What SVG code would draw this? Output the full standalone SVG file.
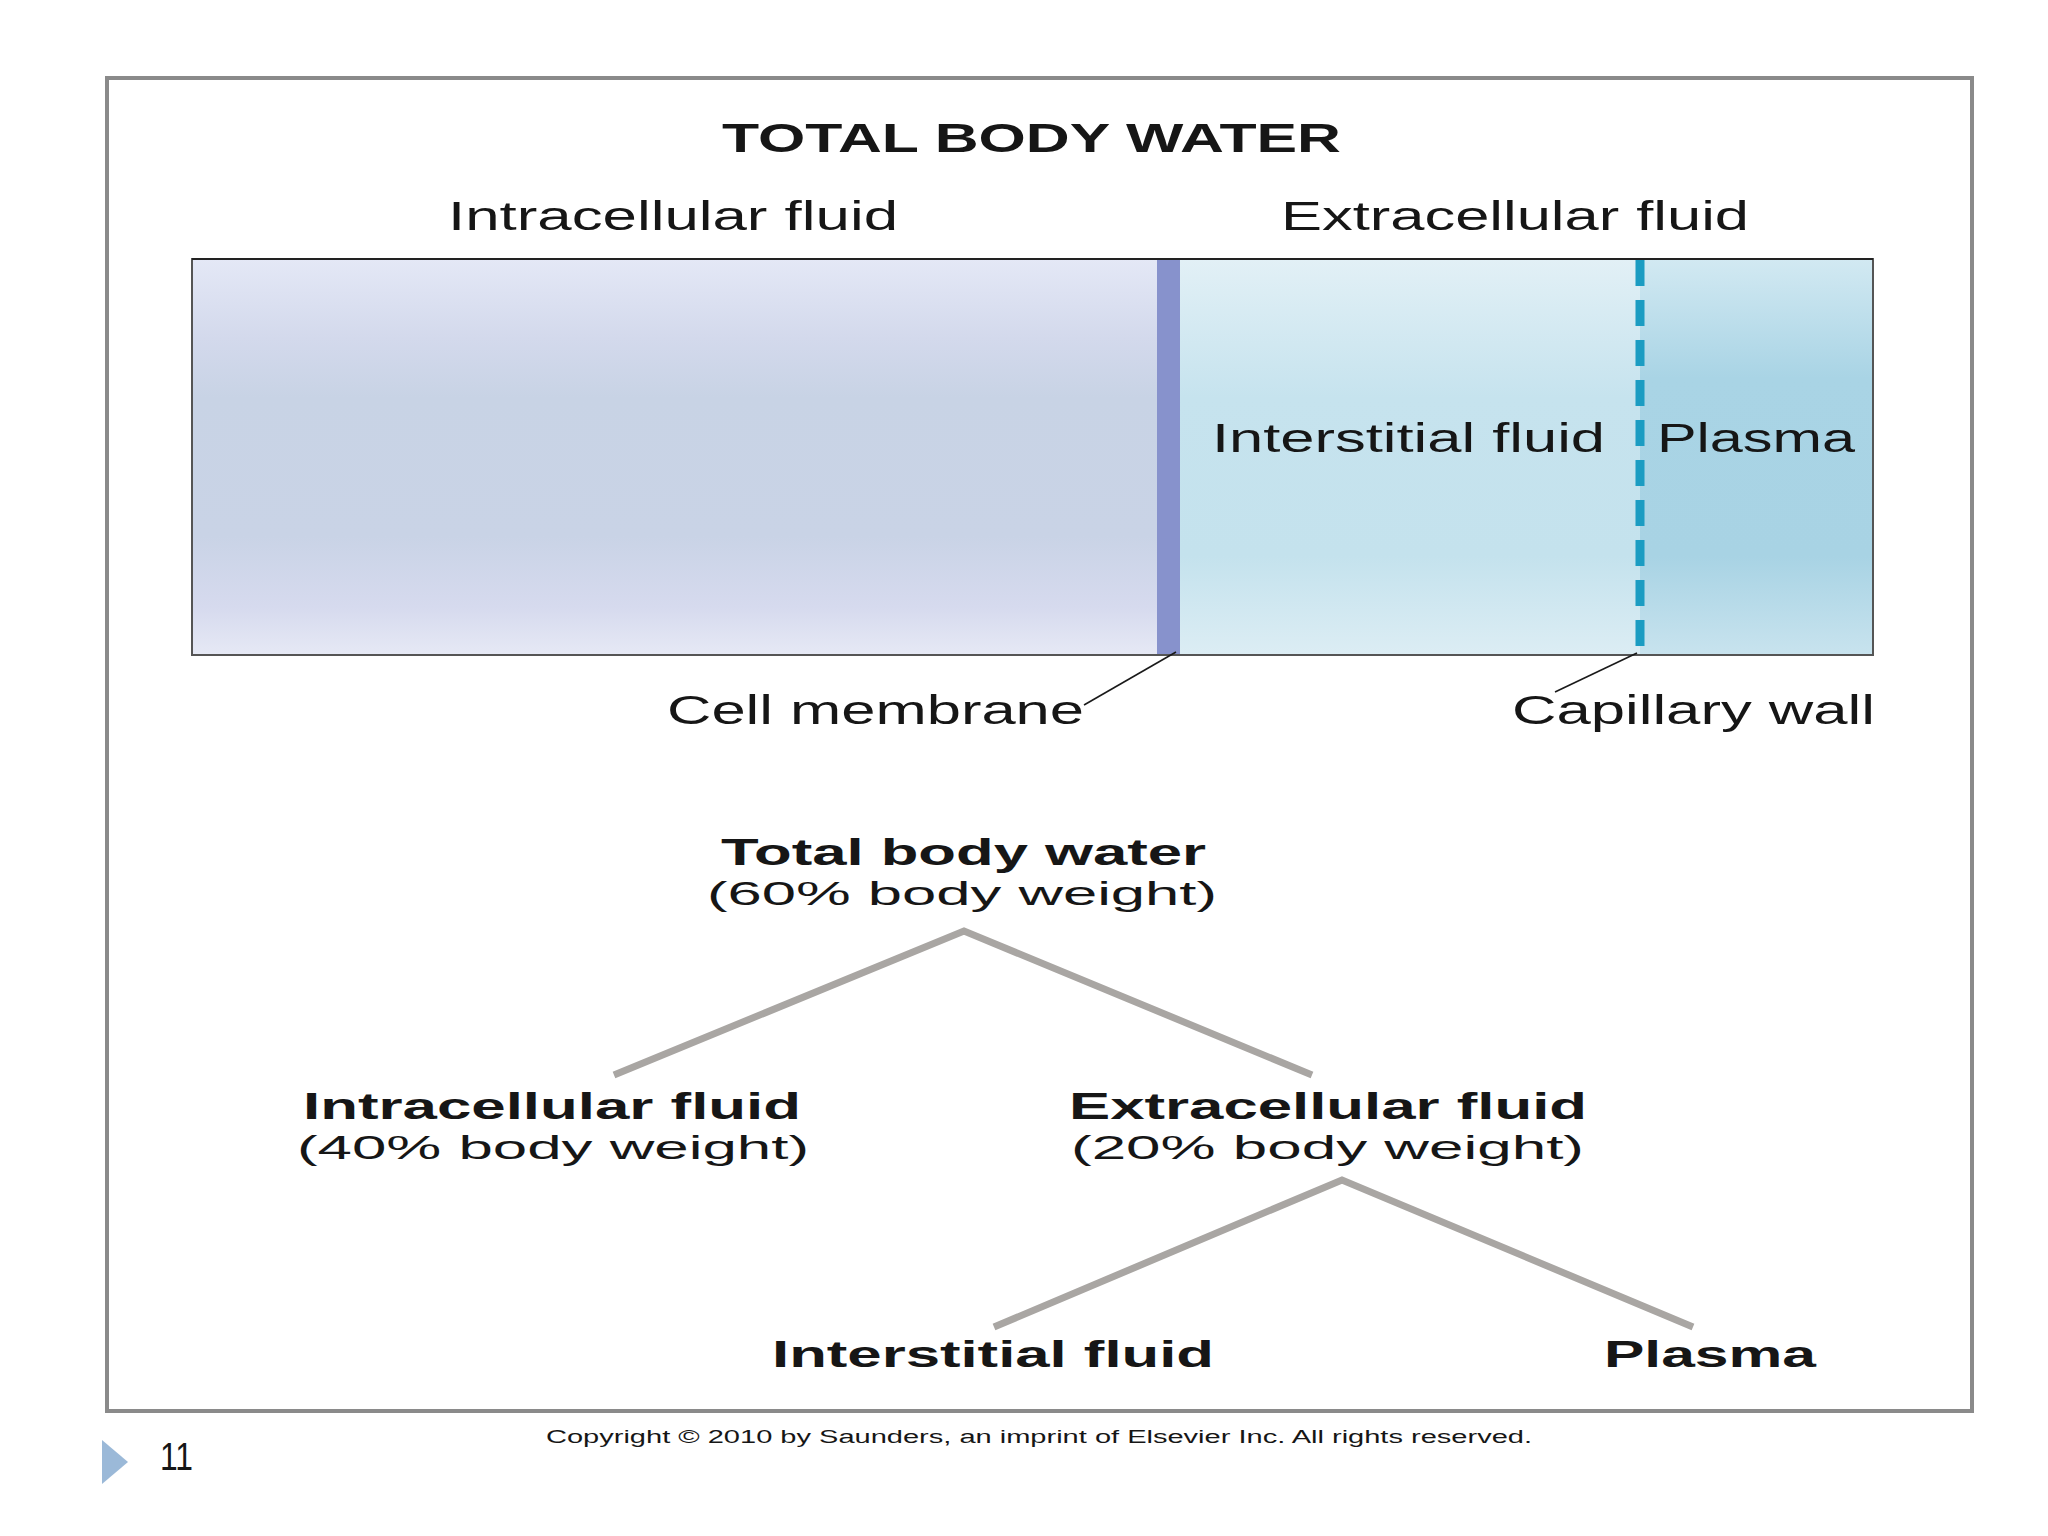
<svg xmlns="http://www.w3.org/2000/svg" width="2048" height="1536" viewBox="0 0 2048 1536">
<defs>
<style>
text{font-family:"Liberation Sans",Arial,Helvetica,sans-serif;fill:#161616}
.h{font-size:40px;font-weight:bold}
.lab{font-size:40px}
.b{font-size:36px;font-weight:bold}
.p{font-size:34px}
.conn{stroke:#a9a6a3;stroke-width:7;fill:none;stroke-linecap:butt}
.lead{stroke:#1a1a1a;stroke-width:1.6;fill:none}
</style>
<linearGradient id="gIntra" x1="0" y1="0" x2="0" y2="1">
<stop offset="0" stop-color="#e4e8f6"/>
<stop offset="0.2" stop-color="#d3d9ec"/>
<stop offset="0.35" stop-color="#c8d3e5"/>
<stop offset="0.7" stop-color="#c9d3e6"/>
<stop offset="0.88" stop-color="#d6daee"/>
<stop offset="1" stop-color="#e6e9f5"/>
</linearGradient>
<linearGradient id="gInter" x1="0" y1="0" x2="0" y2="1">
<stop offset="0" stop-color="#e2f0f6"/>
<stop offset="0.35" stop-color="#c6e3ee"/>
<stop offset="0.75" stop-color="#c4e2ed"/>
<stop offset="1" stop-color="#dcedf4"/>
</linearGradient>
<linearGradient id="gPlasma" x1="0" y1="0" x2="0" y2="1">
<stop offset="0" stop-color="#d2e9f2"/>
<stop offset="0.3" stop-color="#a9d4e5"/>
<stop offset="0.75" stop-color="#a8d3e4"/>
<stop offset="1" stop-color="#c8e3ee"/>
</linearGradient>
</defs>
<rect width="2048" height="1536" fill="#ffffff"/>
<rect id="frame" x="107" y="78" width="1865" height="1333" fill="#ffffff" stroke="#8a8a8a" stroke-width="4"/>

<g id="title"><text class="h" x="722" y="152" textLength="619" lengthAdjust="spacingAndGlyphs">TOTAL BODY WATER</text></g>
<g id="label-intracellular"><text class="lab" x="448" y="230" textLength="450" lengthAdjust="spacingAndGlyphs">Intracellular fluid</text></g>
<g id="label-extracellular"><text class="lab" x="1281" y="230" textLength="468" lengthAdjust="spacingAndGlyphs">Extracellular fluid</text></g>

<g id="compartments">
<rect x="192" y="259" width="966" height="396" fill="url(#gIntra)"/>
<rect x="1180" y="259" width="460" height="396" fill="url(#gInter)"/>
<rect x="1640" y="259" width="233" height="396" fill="url(#gPlasma)"/>
<rect x="192" y="259" width="1681" height="396" fill="none" stroke="#555" stroke-width="2"/>
<line x1="192" y1="259" x2="1873" y2="259" stroke="#222" stroke-width="2"/>
</g>
<g id="cell-membrane"><rect x="1157" y="260" width="23" height="394" fill="#8792cc"/></g>
<g id="capillary-wall"><line x1="1640" y1="260" x2="1640" y2="654" stroke="#1b9cc2" stroke-width="9" stroke-dasharray="26 14"/></g>
<g id="label-interstitial"><text class="lab" x="1212" y="452" textLength="393" lengthAdjust="spacingAndGlyphs">Interstitial fluid</text></g>
<g id="label-plasma"><text class="lab" x="1657" y="452" textLength="198" lengthAdjust="spacingAndGlyphs">Plasma</text></g>
<g id="label-cell-membrane"><text class="lab" x="667" y="724" textLength="417" lengthAdjust="spacingAndGlyphs">Cell membrane</text></g>
<g id="label-capillary-wall"><text class="lab" x="1512" y="724" textLength="363" lengthAdjust="spacingAndGlyphs">Capillary wall</text></g>

<g id="node-total">
<text class="b" x="721" y="865" textLength="485" lengthAdjust="spacingAndGlyphs">Total body water</text>
<text class="p" x="707" y="905" textLength="510" lengthAdjust="spacingAndGlyphs">(60% body weight)</text>
</g>
<g id="node-intracellular">
<text class="b" x="303" y="1119" textLength="498" lengthAdjust="spacingAndGlyphs">Intracellular fluid</text>
<text class="p" x="297" y="1159" textLength="512" lengthAdjust="spacingAndGlyphs">(40% body weight)</text>
</g>
<g id="node-extracellular">
<text class="b" x="1069" y="1119" textLength="518" lengthAdjust="spacingAndGlyphs">Extracellular fluid</text>
<text class="p" x="1071" y="1159" textLength="513" lengthAdjust="spacingAndGlyphs">(20% body weight)</text>
</g>
<g id="node-interstitial"><text class="b" x="772" y="1367" textLength="442" lengthAdjust="spacingAndGlyphs">Interstitial fluid</text></g>
<g id="node-plasma"><text class="b" x="1604" y="1367" textLength="212" lengthAdjust="spacingAndGlyphs">Plasma</text></g>

<g id="connectors">
<polyline class="conn" points="614,1075 964,931 1312,1075"/>
<polyline class="conn" points="994,1327 1342,1180 1693,1327"/>
<line class="lead" x1="1176" y1="652" x2="1084" y2="705"/>
<line class="lead" x1="1637" y1="653" x2="1555" y2="692"/>
</g>

<g id="copyright"><text x="546" y="1443" font-size="18" fill="#222" textLength="986" lengthAdjust="spacingAndGlyphs">Copyright © 2010 by Saunders, an imprint of Elsevier Inc. All rights reserved.</text></g>
<g id="slide-number">
<polygon points="102,1440 128,1462 102,1484" fill="#9bb9d8"/>
<text x="160" y="1470" font-size="38" fill="#2a2a2a" textLength="33" lengthAdjust="spacingAndGlyphs">11</text>
</g>
</svg>
